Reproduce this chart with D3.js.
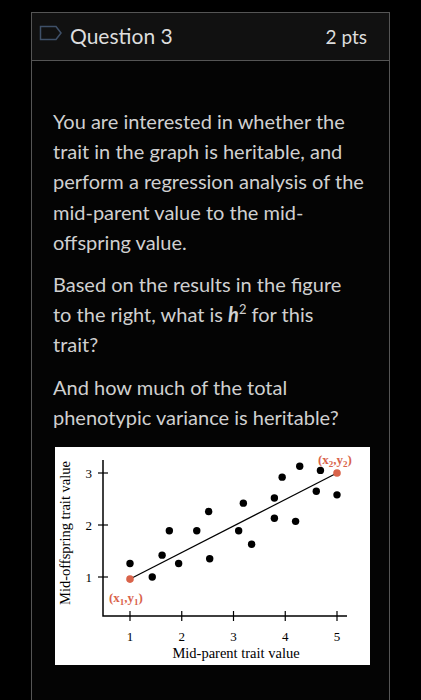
<!DOCTYPE html>
<html><head><meta charset="utf-8">
<script src="https://cdn.jsdelivr.net/npm/d3@7"></script>
<style>body{margin:0;background:#000;}</style>
</head><body>
<script>
// data
var parentX = [1.0,1.43,1.62,1.76,1.94,2.29,2.52,2.54,3.1,3.19,3.35,3.79,3.79,3.94,4.2,4.28,4.6,4.68,5.0];
var offspringY = [1.26,1.0,1.42,1.89,1.26,1.89,2.26,1.35,1.89,2.42,1.63,2.52,2.13,2.92,2.07,3.13,2.65,3.05,2.58];
var fitPoints = [[1,0.96],[5,3.0]];
var xTicks = [1,2,3,4,5];
var yTicks = [1,2,3];

var W = 421, H = 700;
var svg = d3.select("body").append("svg").attr("width", W).attr("height", H)
	.style("font-family", "Lato, 'Open Sans', sans-serif");
svg.append("rect").attr("width", W).attr("height", H).attr("fill", "#000");

// card
svg.append("rect").attr("x", 31.5).attr("y", 12.5).attr("width", 358).attr("height", 700)
	.attr("fill", "#040404").attr("stroke", "#555");
svg.append("rect").attr("x", 32).attr("y", 13).attr("width", 357).attr("height", 47).attr("fill", "#111");
svg.append("line").attr("x1", 31).attr("x2", 390).attr("y1", 60.5).attr("y2", 60.5).attr("stroke", "#555");
svg.append("path").attr("d", "M40.5,26.5 H56 L61,33 L56,39.5 H40.5 Z").attr("fill", "none").attr("stroke", "#3f5068").attr("stroke-width", 1.5);
svg.append("text").attr("x", 70).attr("y", 44).attr("font-size", 21).attr("fill", "#ddd").text("Question 3");
svg.append("text").attr("x", 367).attr("y", 44).attr("font-size", 19).attr("fill", "#ddd").attr("text-anchor", "end").text("2 pts");

var lines = [
	[129, "You are interested in whether the"],
	[159, "trait in the graph is heritable, and"],
	[189, "perform a regression analysis of the"],
	[220, "mid-parent value to the mid-"],
	[250, "offspring value."],
	[292, "Based on the results in the figure"],
	[322, null],
	[352, "trait?"],
	[395, "And how much of the total"],
	[425, "phenotypic variance is heritable?"]
];
lines.forEach(function(l) {
	var t = svg.append("text").attr("x", 53).attr("y", l[0]).attr("font-size", 20).attr("fill", "#d0d0d0");
	if (l[1]) { t.text(l[1]); return; }
	t.append("tspan").text("to the right, what is ");
	t.append("tspan").attr("font-weight", "bold").attr("font-style", "italic").text("h");
	t.append("tspan").attr("font-size", 13).attr("dy", -8).text("2");
	t.append("tspan").attr("dy", 8).text(" for this");
});

// figure
svg.append("rect").attr("x", 55).attr("y", 447).attr("width", 315).attr("height", 218).attr("fill", "#fff");
var g = svg.append("g").style("font-family", "'Liberation Serif', 'DejaVu Serif', serif");
var x = d3.scaleLinear().domain([1,5]).range([130,337]);
var y = d3.scaleLinear().domain([1,3]).range([577,473]);
var axX = 103, axY = 616;

g.append("path").attr("d", "M" + axX + ",460 V" + axY + " H347").attr("fill", "none").attr("stroke", "#000").attr("stroke-width", 1.5);
xTicks.forEach(function(t) {
	g.append("line").attr("x1", x(t)).attr("x2", x(t)).attr("y1", axY - 5).attr("y2", axY + 5).attr("stroke", "#000").attr("stroke-width", 1.2);
	g.append("text").attr("x", x(t)).attr("y", axY + 25).attr("text-anchor", "middle").attr("font-size", 13).text(t);
});
yTicks.forEach(function(t) {
	g.append("line").attr("x1", axX - 5).attr("x2", axX + 5).attr("y1", y(t)).attr("y2", y(t)).attr("stroke", "#000").attr("stroke-width", 1.2);
	g.append("text").attr("x", axX - 11).attr("y", y(t) + 4.5).attr("text-anchor", "end").attr("font-size", 13).text(t);
});
g.append("text").attr("x", 236).attr("y", 658).attr("text-anchor", "middle").attr("font-size", 14.5).text("Mid-parent trait value");
g.append("text").attr("transform", "translate(70,533) rotate(-90)").attr("text-anchor", "middle").attr("font-size", 14.5).text("Mid-offspring trait value");

g.append("line").attr("x1", x(fitPoints[0][0])).attr("y1", y(fitPoints[0][1]))
	.attr("x2", x(fitPoints[1][0])).attr("y2", y(fitPoints[1][1])).attr("stroke", "#000").attr("stroke-width", 1.2);
g.selectAll("circle.pt").data(parentX).enter().append("circle")
	.attr("cx", function(d) { return x(d); })
	.attr("cy", function(d, i) { return y(offspringY[i]); })
	.attr("r", 3.7).attr("fill", "#000");
g.selectAll("circle.fit").data(fitPoints).enter().append("circle")
	.attr("cx", function(d) { return x(d[0]); }).attr("cy", function(d) { return y(d[1]); })
	.attr("r", 3.8).attr("fill", "#d9634a");
function pointLabel(px, py, n) {
	var t = g.append("text").attr("x", px).attr("y", py).attr("font-size", 13).attr("font-weight", "bold").attr("fill", "#d9634a");
	t.append("tspan").text("(x");
	t.append("tspan").attr("font-size", 9).attr("dy", 3).text(n);
	t.append("tspan").attr("dy", -3).text(",y");
	t.append("tspan").attr("font-size", 9).attr("dy", 3).text(n);
	t.append("tspan").attr("dy", -3).text(")");
}
pointLabel(109, 602, "1");
pointLabel(318, 464, "2");
</script>
</body></html>
